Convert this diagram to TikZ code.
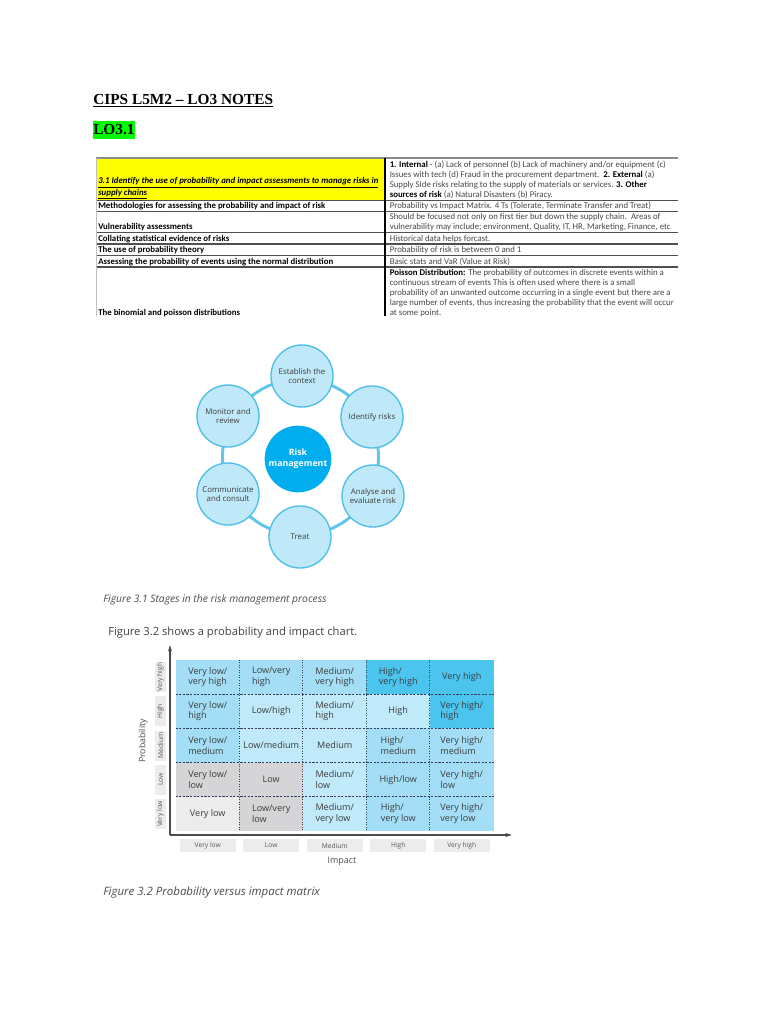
\documentclass[tikz,border=0pt]{standalone}
\usepackage{fontspec}
\setmainfont{Carlito}
\newfontfamily\opensans{Open Sans}
\newfontfamily\timesbold{Liberation Serif}
\usetikzlibrary{arrows.meta, positioning}
\definecolor{HiYellow}{HTML}{FFFF00}
\definecolor{HiGreen}{HTML}{00FF00}
\definecolor{RuleGrey}{HTML}{505050}
\definecolor{TextGrey}{HTML}{3C3C3C}
\definecolor{RMHub}{HTML}{00AEEF}
\definecolor{RMPale}{HTML}{BFE9F9}
\definecolor{RMEdge}{HTML}{4DBDE9}
\definecolor{RMRing}{HTML}{62C6EC}
\definecolor{MatLight}{HTML}{C0EAFA}
\definecolor{MatMid}{HTML}{A3DEF6}
\definecolor{MatDark}{HTML}{4BC4EE}
\definecolor{MatGrey}{HTML}{D5D5D7}
\definecolor{MatPale}{HTML}{ECECEC}
\definecolor{GridLine}{HTML}{34405A}

\begin{document}
\begin{tikzpicture}[
    x=0.75pt, y=-0.75pt,
    every node/.style={inner sep=0pt},
    leftcell/.style={anchor=south west, align=left, text=black, font=\fontsize{6.6}{7.5}\selectfont\bfseries},
    rightcell/.style={anchor=south west, align=left, text=black!72, font=\fontsize{6.6}{7.5}\selectfont},
    rowline/.style={draw=RuleGrey, line width=0.8pt},
    stage/.style={circle, draw=RMEdge, fill=RMPale, line width=1pt, minimum size=46.5pt, align=center, text=TextGrey, font=\opensans\fontsize{5.9}{7}\selectfont},
    hub/.style={circle, fill=RMHub, minimum size=50pt, align=center, text=white, font=\opensans\bfseries\fontsize{6.6}{8}\selectfont},
    ring/.style={draw=RMRing, line width=2.2pt},
    cell/.style={rectangle, minimum width=47.7pt, minimum height=25.7pt, align=left, text=TextGrey, font=\opensans\fontsize{6.8}{8}\selectfont},
    axislabel/.style={rectangle, fill=MatPale, text=black!65, font=\opensans\fontsize{5}{6}\selectfont},
    gridv/.style={draw=GridLine, line width=0.6pt, dash pattern=on 0.7pt off 1.2pt},
    gridh/.style={draw=GridLine, line width=0.6pt, dash pattern=on 1.6pt off 1.1pt},
    axis/.style={draw=black!70, line width=0.9pt, -{Stealth[length=5pt, width=3pt]}},
    caption/.style={anchor=base west, text=black!70, font=\opensans\itshape\fontsize{7.7}{9}\selectfont}
]
\useasboundingbox[fill=white] (0,0) rectangle (768,1024);

% Headings
\node[anchor=base west, text=black, font=\timesbold\bfseries\fontsize{11.5}{13}\selectfont] (title) at (93,104) {\underline{CIPS L5M2 – LO3 NOTES}};
\node[anchor=base west, fill=HiGreen, text height=10pt, text depth=3.5pt, text=black, font=\timesbold\bfseries\fontsize{11.5}{13}\selectfont] (lo) at (93,134) {LO3.1};

% Notes table
\fill[HiYellow] (97,159) rectangle (384,200.5);
\draw[draw=black!45, line width=1.4pt] (96,158) -- (678,158);
\foreach \y in {200.5, 211.5, 232.5, 244, 255.5, 267}
  \draw[rowline] (96,\y) -- (678,\y);
\draw[draw=black!25, line width=0.6pt] (96,158) -- (96,316);
\draw[draw=black, line width=1pt] (385,158) -- (385,316);

\node[leftcell] (t1) at (98,199.5) {\itshape\underline{3.1 Identify the use of probability and impact assessments to manage risks in}\\ \itshape\underline{supply chains}};
\node[leftcell] (t2) at (98,210.5) {Methodologies for assessing the probability and impact of risk};
\node[leftcell] (t3) at (98,231.5) {Vulnerability assessments};
\node[leftcell] (t4) at (98,243) {Collating statistical evidence of risks};
\node[leftcell] (t5) at (98,254.5) {The use of probability theory};
\node[leftcell] (t6) at (98,266) {Assessing the probability of events using the normal distribution};
\node[leftcell] (t7) at (98,317) {The binomial and poisson distributions};

\node[rightcell] (n1) at (389.5,199.5) {\textcolor{black}{\bfseries 1. Internal} - (a) Lack of personnel (b) Lack of machinery and/or equipment (c)\\ Issues with tech (d) Fraud in the procurement department.\ \ \textcolor{black}{\bfseries 2. External} (a)\\ Supply SIde risks relating to the supply of materials or services. \textcolor{black}{\bfseries 3. Other}\\ \textcolor{black}{\bfseries sources of risk} (a) Natural Disasters (b) Piracy.};
\node[rightcell] (n2) at (389.5,210.5) {Probability vs Impact Matrix. 4 Ts (Tolerate, Terminate Transfer and Treat)};
\node[rightcell] (n3) at (389.5,231.5) {Should be focused not only on first tier but down the supply chain.\ \ Areas of\\ vulnerability may include; environment, Quality, IT, HR, Marketing, Finance, etc};
\node[rightcell] (n4) at (389.5,243) {Historical data helps forcast.};
\node[rightcell] (n5) at (389.5,254.5) {Probability of risk is between 0 and 1};
\node[rightcell] (n6) at (389.5,266) {Basic stats and VaR (Value at Risk)};
\node[rightcell] (n7) at (389.5,317) {\textcolor{black}{\bfseries Poisson Distribution:} The probability of outcomes in discrete events within a\\ continuous stream of events This is often used where there is a small\\ probability of an unwanted outcome occurring in a single event but there are a\\ large number of events, thus increasing the probability that the event will occur\\ at some point.};

% Risk management cycle
\coordinate (centre) at (300.5,457);
\draw[ring] (centre) circle[radius=78];
\node[hub] (rm) at (298,459) {Risk\\management};
\node[stage] (establish) at (302,376) {Establish the\\context};
\node[stage] (identify) at (372,417) {Identify risks};
\node[stage] (analyse) at (373,496) {Analyse and\\evaluate risk};
\node[stage] (treat) at (300,537) {Treat};
\node[stage] (communicate) at (228,494) {Communicate\\and consult};
\node[stage] (monitor) at (228,416) {Monitor and\\review};

\node[caption] (fig31) at (103,602) {Figure 3.1 Stages in the risk management process};
\node[anchor=base west, text=black!75, font=\opensans\fontsize{8.4}{10}\selectfont] (intro) at (108,635.5) {Figure 3.2 shows a probability and impact chart.};

% Probability versus impact matrix
\foreach \r/\c/\tone/\txt in {
  1/1/MatMid/{Very low/\\very high}, 1/2/MatMid/{Low/very\\high}, 1/3/MatMid/{Medium/\\very high}, 1/4/MatDark/{High/\\very high}, 1/5/MatDark/{Very high},
  2/1/MatMid/{Very low/\\high}, 2/2/MatLight/{Low/high}, 2/3/MatLight/{Medium/\\high}, 2/4/MatLight/{High}, 2/5/MatDark/{Very high/\\high},
  3/1/MatMid/{Very low/\\medium}, 3/2/MatLight/{Low/medium}, 3/3/MatLight/{Medium}, 3/4/MatMid/{High/\\medium}, 3/5/MatMid/{Very high/\\medium},
  4/1/MatGrey/{Very low/\\low}, 4/2/MatGrey/{Low}, 4/3/MatLight/{Medium/\\low}, 4/4/MatMid/{High/low}, 4/5/MatMid/{Very high/\\low},
  5/1/MatPale/{Very low}, 5/2/MatGrey/{Low/very\\low}, 5/3/MatLight/{Medium/\\very low}, 5/4/MatMid/{High/\\very low}, 5/5/MatMid/{Very high/\\very low}}
  \node[cell, fill=\tone] (m-\r-\c) at ({176+63.5*(\c-0.5)}, {660+34.2*(\r-0.5)}) {\txt};

\foreach \c in {2,...,5}
  \draw[gridv] (m-1-\c.north west) -- (m-5-\c.south west);
\foreach \r in {2,...,5}
  \draw[gridh] (m-\r-1.north west) -- (m-\r-5.north east);

\coordinate (origin) at (170,835);
\coordinate (ptip) at (170,645);
\coordinate (itip) at (512,835);
\draw[axis] (origin) -- (ptip);
\draw[axis] (origin) -- (itip);

\foreach \r/\txt in {1/Very high, 2/High, 3/Medium, 4/Low, 5/Very low}
  \node[axislabel, rotate=90, minimum width=22.5pt, minimum height=8.5pt] (p-\r) at (160.5, {660+34.2*(\r-0.5)}) {\txt};
\foreach \c/\txt in {1/Very low, 2/Low, 3/Medium, 4/High, 5/Very high}
  \node[axislabel, minimum width=42pt, minimum height=9.7pt] (i-\c) at ({176+63.5*(\c-0.5)}, 845.5) {\txt};

\node[rotate=90, text=black!70, font=\opensans\fontsize{6.6}{8}\selectfont] (prob) at (143,741) {Probability};
\node[text=black!70, font=\opensans\fontsize{6.7}{8}\selectfont] (impact) at (342,861) {Impact};

\node[caption, font=\opensans\itshape\fontsize{8.6}{10}\selectfont] (fig32) at (103,895) {Figure 3.2 Probability versus impact matrix};

\end{tikzpicture}
\end{document}
